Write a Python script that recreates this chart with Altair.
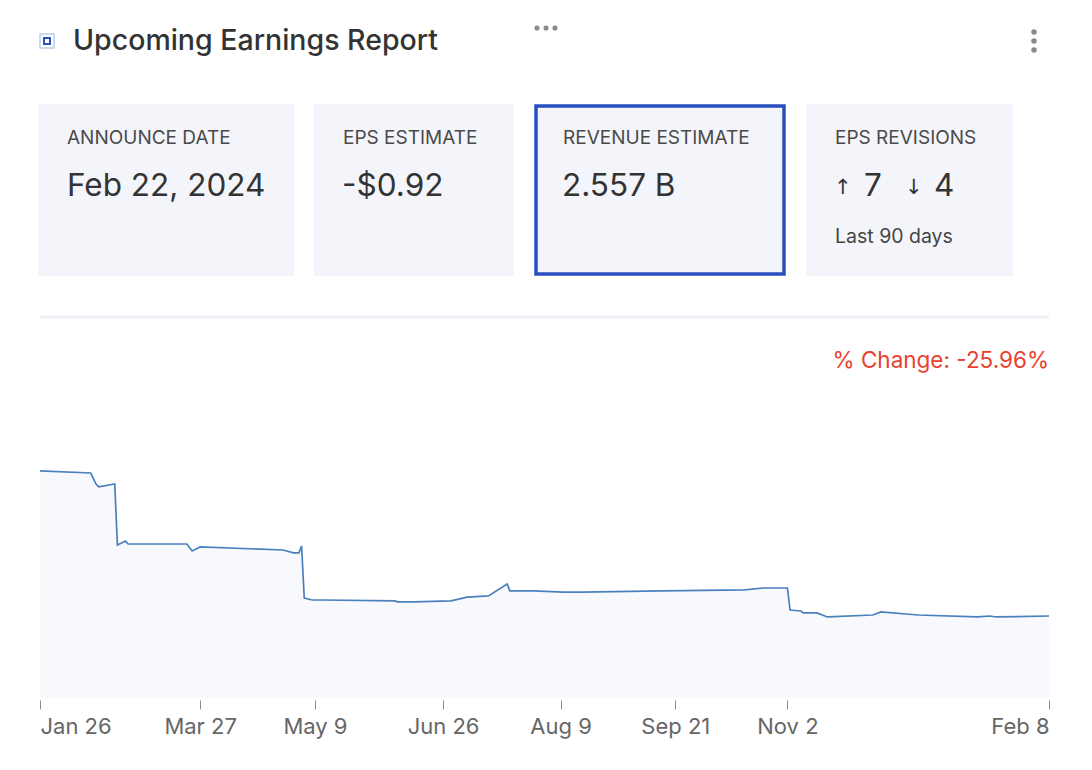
import altair as alt
import pandas as pd

FONT = "Inter"

# ---------------- text content ----------------
TITLE = "Upcoming Earnings Report"
CARD_LABELS = ["ANNOUNCE DATE", "EPS ESTIMATE", "REVENUE ESTIMATE", "EPS REVISIONS"]
CARD_VALUES = ["Feb 22, 2024", "-$0.92", "2.557 B"]
REVISIONS_UP = "7"
REVISIONS_DOWN = "4"
REVISIONS_NOTE = "Last 90 days"
CHANGE_TEXT = "% Change: -25.96%"

# ---------------- series: revenue estimate (billions) ----------------
DATES = [
    "2023-01-26", "2023-02-14", "2023-02-16", "2023-02-17", "2023-02-23",
    "2023-02-24", "2023-02-27", "2023-02-28", "2023-03-22", "2023-03-24",
    "2023-03-27", "2023-04-27", "2023-05-01", "2023-05-03", "2023-05-04",
    "2023-05-05", "2023-05-08", "2023-05-12", "2023-06-08", "2023-06-09",
    "2023-06-15", "2023-06-29", "2023-07-05", "2023-07-13", "2023-07-20",
    "2023-07-21", "2023-07-30", "2023-08-10", "2023-08-17", "2023-09-16",
    "2023-10-17", "2023-10-24", "2023-11-02", "2023-11-03", "2023-11-07",
    "2023-11-08", "2023-11-13", "2023-11-17", "2023-12-04", "2023-12-07",
    "2023-12-21", "2024-01-12", "2024-01-17", "2024-01-19", "2024-02-08",
]
REVENUE = [
    3.454, 3.441, 3.373, 3.355, 3.373,
    2.996, 3.021, 3.002, 3.002, 2.959,
    2.984, 2.965, 2.947, 2.947, 2.990,
    2.668, 2.656, 2.656, 2.650, 2.644,
    2.644, 2.650, 2.674, 2.681, 2.755,
    2.712, 2.712, 2.705, 2.705, 2.712,
    2.718, 2.730, 2.730, 2.594, 2.588,
    2.576, 2.576, 2.551, 2.563, 2.582,
    2.563, 2.551, 2.557, 2.551, 2.557,
]
TICK_DATES = ["2023-01-26", "2023-03-27", "2023-05-09", "2023-06-26",
              "2023-08-09", "2023-09-21", "2023-11-02", "2024-02-08"]
X_DOMAIN = ["2023-01-26", "2024-02-08"]
Y_DOMAIN = [2.05, 4.016]


def dt(s):
    y, m, d = map(int, s.split("-"))
    return alt.DateTime(year=y, month=m, date=d)


# page coordinates -> chart coordinates (8px page margin + padding)
PAD_L, PAD_T = 32, 372
W, H = 1009, 318


def px(x):
    return x - 8 - PAD_L


def py(y):
    return y - 8 - PAD_T


one = pd.DataFrame({"k": [0]})


def box(x1, x2, y1, y2, **kw):
    return alt.Chart(one).mark_rect(**kw).encode(
        x=alt.value(px(x1)), x2=alt.value(px(x2)),
        y=alt.value(py(y1)), y2=alt.value(py(y2)))


def txt(s, x, y, size, color, weight=400, align="left", font=FONT):
    return alt.Chart(pd.DataFrame({"t": [s]})).mark_text(
        align=align, baseline="alphabetic", fontSize=size, color=color,
        fontWeight=weight, font=font).encode(
        x=alt.value(px(x)), y=alt.value(py(y)), text="t:N")


def dot(x, y, size=26):
    return alt.Chart(one).mark_point(filled=True, shape="circle", size=size,
                                     color="#8a8a8a", opacity=1).encode(
        x=alt.value(px(x)), y=alt.value(py(y)))


df = pd.DataFrame({"date": pd.to_datetime(DATES), "rev": REVENUE})

xenc = alt.X("date:T",
             scale=alt.Scale(domain=[dt(d) for d in X_DOMAIN], nice=False),
             axis=alt.Axis(values=[dt(d) for d in TICK_DATES], format="%b %-d",
                           title=None, grid=False, domain=False, labelFlush=True,
                           tickColor="#8c8c8c", tickSize=9, tickWidth=1, offset=2,
                           labelPadding=7, labelFontSize=22, labelColor="#666666",
                           labelFont=FONT))
yenc = alt.Y("rev:Q", scale=alt.Scale(domain=Y_DOMAIN, nice=False, zero=False),
             axis=None)

base = alt.Chart(df)
area = base.mark_area(color="#f8f9fd", opacity=1).encode(
    x=xenc, y=yenc, y2=alt.datum(Y_DOMAIN[0]))
line = base.mark_line(color="#4a80bd", strokeWidth=1.7).encode(x=xenc, y=yenc)

CARD_FILL = "#f4f5fa"
LABEL_C = "#4a4a4a"
VALUE_C = "#333333"
layers = [
    # header
    box(40, 54, 34, 48, fill="white", stroke="#bfcaf0", strokeWidth=1.5),
    box(44, 50, 38, 44, fill="white", stroke="#2b50bf", strokeWidth=2),
    txt(TITLE, 73, 50, 28.5, VALUE_C, weight=500),
    dot(537, 28), dot(546, 28), dot(555, 28),
    dot(1034, 32, 30), dot(1034, 41, 30), dot(1034, 50, 30),
    # cards
    box(38, 294, 104, 276, fill=CARD_FILL),
    box(314, 514, 104, 276, fill=CARD_FILL),
    box(536, 784, 106, 274, fill=CARD_FILL, stroke="#2a4fbf", strokeWidth=3.5),
    box(806, 1013, 104, 276, fill=CARD_FILL),
    txt(CARD_LABELS[0], 67, 144, 19, LABEL_C),
    txt(CARD_LABELS[1], 343, 144, 19, LABEL_C),
    txt(CARD_LABELS[2], 563, 144, 19, LABEL_C),
    txt(CARD_LABELS[3], 835, 144, 19, LABEL_C),
    txt(CARD_VALUES[0], 67, 196, 31.5, VALUE_C),
    txt(CARD_VALUES[1], 342, 196, 31.5, VALUE_C),
    txt(CARD_VALUES[2], 562, 196, 31.5, VALUE_C),
    txt("↑", 834, 194, 21, VALUE_C, font="DejaVu Sans"),
    txt(REVISIONS_UP, 864, 196, 31.5, VALUE_C),
    txt("↓", 905, 194, 21, VALUE_C, font="DejaVu Sans"),
    txt(REVISIONS_DOWN, 934, 196, 31.5, VALUE_C),
    txt(REVISIONS_NOTE, 835, 243, 19.5, "#444444"),
    # separator and change label
    alt.Chart(one).mark_rule(color="#eff0f7", strokeWidth=3).encode(
        x=alt.value(px(40)), x2=alt.value(px(1049)), y=alt.value(py(317))),
    txt(CHANGE_TEXT, 1049, 368, 22.5, "#e8412f", align="right"),
    area, line,
]

chart = alt.layer(*layers).properties(
    width=W, height=H,
    background="white",
    autosize=alt.AutoSizeParams(type="none"),
    padding={"left": PAD_L, "top": PAD_T, "right": 30, "bottom": 60},
).configure_view(stroke=None)

chart.save("out.html", embed_options={"renderer": "svg", "actions": False})
